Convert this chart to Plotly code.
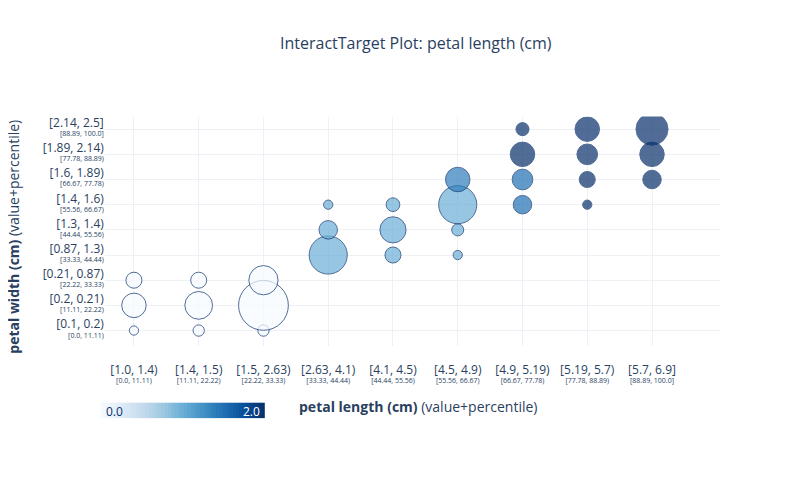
import plotly.graph_objects as go
import plotly.express as px

x_labels = ['[1.0, 1.4)', '[1.4, 1.5)', '[1.5, 2.63)', '[2.63, 4.1)', '[4.1, 4.5)',
            '[4.5, 4.9)', '[4.9, 5.19)', '[5.19, 5.7)', '[5.7, 6.9]']
x_pct = ['[0.0, 11.11)', '[11.11, 22.22)', '[22.22, 33.33)', '[33.33, 44.44)', '[44.44, 55.56)',
         '[55.56, 66.67)', '[66.67, 77.78)', '[77.78, 88.89)', '[88.89, 100.0]']
y_labels = ['[0.1, 0.2)', '[0.2, 0.21)', '[0.21, 0.87)', '[0.87, 1.3)', '[1.3, 1.4)',
            '[1.4, 1.6)', '[1.6, 1.89)', '[1.89, 2.14)', '[2.14, 2.5]']
y_pct = ['[0.0, 11.11)', '[11.11, 22.22)', '[22.22, 33.33)', '[33.33, 44.44)', '[44.44, 55.56)',
         '[55.56, 66.67)', '[66.67, 77.78)', '[77.78, 88.89)', '[88.89, 100.0]']

# bubbles: x bucket, y bucket, count, target mean
bx = [0, 0, 0, 1, 1, 1, 2, 2, 2, 3, 3, 3, 4, 4, 4, 5, 5, 5, 5, 6, 6, 6, 6, 7, 7, 7, 7, 8, 8, 8]
by = [0, 1, 2, 0, 1, 2, 0, 1, 2, 3, 4, 5, 3, 4, 5, 3, 4, 5, 6, 5, 6, 7, 8, 5, 6, 7, 8, 6, 7, 8]
counts = [1, 7, 3, 1.5, 9, 3, 1.5, 29, 10, 17, 4, 1, 3, 8, 2.2, 1, 1.7, 17, 7, 4, 5, 7, 2, 1, 3, 5, 7, 4, 7, 12]
target = [0, 0, 0, 0, 0, 0, 0, 0, 0, 1, 1, 1, 1, 1, 1, 1, 1, 1, 1.4, 1.5, 1.5, 2, 2, 2, 2, 2, 2, 2, 2, 2]

blues = px.colors.sequential.Blues
navy = '#2a3f5f'

fig = go.Figure()
fig.add_trace(go.Scatter(
    x=bx, y=by, mode='markers',
    marker=dict(size=counts, sizemode='area', sizeref=29 / 54 ** 2 * 2.35,
                color=target, cmin=0, cmax=2, colorscale=blues, opacity=0.7,
                line=dict(color='rgb(8,48,107)', width=1)),
    showlegend=False, xaxis='x', yaxis='y'))

# colour bar strip
fig.add_trace(go.Heatmap(z=[[i / 50 * 2 for i in range(51)]], colorscale=blues, zmin=0, zmax=2,
                         showscale=False, xaxis='x2', yaxis='y2', hoverinfo='skip'))

lab = "<span style='font-size:12px'>%s</span><br>%s"
fig.update_layout(
    width=800, height=500, plot_bgcolor='white', paper_bgcolor='white',
    margin=dict(l=0, r=0, t=0, b=0),
    font=dict(family='Open Sans', color=navy, size=12),
    xaxis=dict(domain=[0.121, 0.89], anchor='y', range=[-0.45, 9.05],
               tickvals=list(range(9)), ticktext=[lab % (a, b) for a, b in zip(x_labels, x_pct)],
               gridcolor='#eef0f6', zeroline=False, ticks='', tickfont=dict(size=7),
               ticklabelstandoff=20),
    yaxis=dict(domain=[0.326, 0.786], anchor='x', range=[-0.6, 8.5],
               tickvals=list(range(9)), ticktext=[lab % (a, b) for a, b in zip(y_labels, y_pct)],
               gridcolor='#eef0f6', zeroline=False, ticks='', tickfont=dict(size=7)),
    xaxis2=dict(domain=[0.115, 0.321], anchor='y2', visible=False, range=[-0.5, 50.5]),
    yaxis2=dict(domain=[0.18, 0.212], anchor='x2', visible=False),
    annotations=[
        dict(text='InteractTarget Plot: petal length (cm)', x=0.51, y=0.96, xref='paper', yref='paper',
             showarrow=False, font=dict(size=16)),
        dict(text='<b>petal width (cm)</b> (value+percentile)', x=-0.008, y=0.545, xref='paper', yref='paper',
             showarrow=False, textangle=-90, font=dict(size=14)),
        dict(text='<b>petal length (cm)</b> (value+percentile)', x=0.513, y=0.18, xref='paper', yref='paper',
             showarrow=False, font=dict(size=14)),
        dict(text='0.0', x=0.12, y=0.172, xref='paper', yref='paper', xanchor='left',
             showarrow=False, font=dict(size=12, color='rgb(8,48,107)')),
        dict(text='2.0', x=0.317, y=0.172, xref='paper', yref='paper', xanchor='right',
             showarrow=False, font=dict(size=12, color='white')),
    ])

fig.write_html("out.html")
